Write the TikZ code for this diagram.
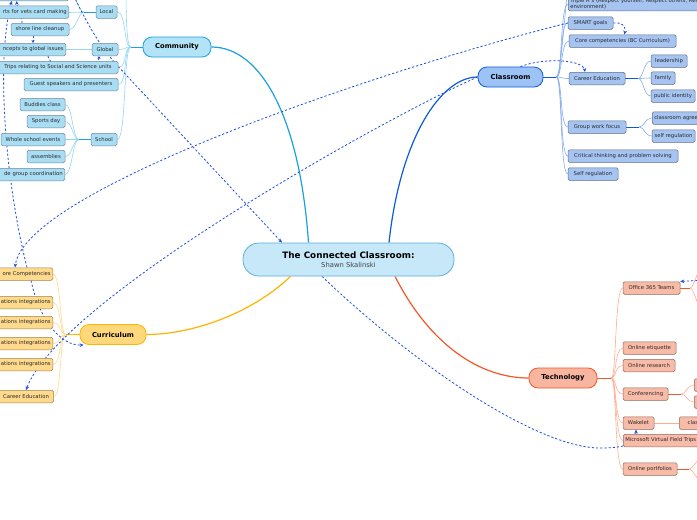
\documentclass[tikz,border=0pt]{standalone}
\usepackage{fontspec}
\setmainfont{DejaVu Sans}
\usetikzlibrary{arrows.meta,backgrounds}
\definecolor{rootfill}{HTML}{C6E8F9}
\definecolor{rootdraw}{HTML}{5FAEDD}
\definecolor{commfill}{HTML}{B3E3F7}
\definecolor{commc}{HTML}{1BA1E2}
\definecolor{commlt}{HTML}{95D6F3}
\definecolor{cchild}{HTML}{A9DDF4}
\definecolor{cchildd}{HTML}{74889A}
\definecolor{classfill}{HTML}{9CC2F6}
\definecolor{classc}{HTML}{0B5CD5}
\definecolor{classlt}{HTML}{86ADEE}
\definecolor{kchild}{HTML}{A6C4F2}
\definecolor{kchildd}{HTML}{5E6E88}
\definecolor{currfill}{HTML}{FFD87C}
\definecolor{currc}{HTML}{FFB400}
\definecolor{currlt}{HTML}{FFDA92}
\definecolor{uchild}{HTML}{FFD98C}
\definecolor{uchildd}{HTML}{9C8650}
\definecolor{techfill}{HTML}{F8B6A1}
\definecolor{techc}{HTML}{F0582A}
\definecolor{techlt}{HTML}{FFAD92}
\definecolor{tchild}{HTML}{F8BBA7}
\definecolor{tchildd}{HTML}{8F6B60}
\definecolor{dblue}{HTML}{1F4FE0}
\definecolor{txt}{HTML}{2A2A2A}
\definecolor{subtxt}{HTML}{444444}
\begin{document}
\begin{tikzpicture}[x=1pt,y=-1pt,
  box/.style={draw, rounded corners=1.5pt, line width=0.5pt, minimum height=12.5pt, inner xsep=2pt, inner ysep=0.5pt, font=\fontsize{5.3}{6.2}\selectfont, text=txt},
  cb/.style={box, fill=cchild, draw=cchildd},
  kb/.style={box, fill=kchild, draw=kchildd},
  ub/.style={box, fill=uchild, draw=uchildd},
  tb/.style={box, fill=tchild, draw=tchildd},
  mainbox/.style={draw, rounded corners=9pt, line width=0.8pt, minimum height=20pt, inner sep=0pt, font=\fontsize{6.8}{8}\selectfont\bfseries, text=black},
  mainline/.style={line width=1.2pt},
  subline/.style={line width=0.6pt},
  stem/.style={line width=1pt},
  dlink/.style={draw=dblue, line width=0.8pt, dash pattern=on 2.2pt off 2pt, -{Stealth[length=4pt,width=3.6pt]}},
  slink/.style={dlink, -{Stealth[length=3pt,width=3pt]}}
]
\path[use as bounding box] (0,0) rectangle (697,520);

% ---------- central ----------
\node[mainbox, fill=rootfill, draw=rootdraw, minimum width=211pt, minimum height=33pt, rounded corners=16pt, align=center] (root) at (348.5,259.5)
 {{\fontsize{8.8}{10}\selectfont The Connected Classroom:}\\[0.5pt]{\fontsize{6.8}{8}\selectfont\mdseries\color{subtxt}Shawn Skalinski}};

% ---------- main topics ----------
\node[mainbox, fill=commfill, draw=commc, minimum width=68pt] (comm) at (177,47) {Community};
\node[mainbox, fill=classfill, draw=classc, minimum width=65pt] (class) at (510.5,77) {Classroom};
\node[mainbox, fill=currfill, draw=currc, minimum width=66pt] (curr) at (113,334.5) {Curriculum};
\node[mainbox, fill=techfill, draw=techc, minimum width=68pt] (tech) at (563,378) {Technology};

% ---------- Community ----------
\node[cb, anchor=south east, minimum width=90pt, minimum height=14pt] (topL) at (69,1) {};
\node[cb, minimum width=21pt] (local) at (106.5,12) {Local};
\node[cb, anchor=east, text width=78pt, align=right] (vets) at (69,12) {rts for vets card making};
\node[cb, minimum width=58pt] (shore) at (40,29.5) {shore line cleanup};
\node[cb, minimum width=26pt] (global) at (105,49.5) {Global};
\node[cb, anchor=east, text width=76pt, align=right] (concepts) at (66,49.5) {ncepts to global issues};
\node[cb, minimum width=120pt] (trips) at (58,67.5) {Trips relating to Social and Science units};
\node[cb, minimum width=94pt] (guest) at (71,84.5) {Guest speakers and presenters};
\node[cb, minimum width=26pt] (school) at (104,139.5) {School};
\node[cb, minimum width=45pt] (buddies) at (42.5,104.5) {Buddies class};
\node[cb, minimum width=38pt] (sports) at (46,121.5) {Sports day};
\node[cb, minimum width=64pt] (whole) at (33,139.5) {Whole school events};
\node[cb, minimum width=38pt] (assemblies) at (46,156.5) {assemblies};
\node[cb, anchor=east, text width=76pt, align=right] (grade) at (65,174.5) {de group coordination};

% ---------- Curriculum ----------
\node[ub, anchor=east, text width=60pt, align=right] (cc) at (53,274) {ore Competencies};
\node[ub, anchor=east, text width=60pt, align=right] (int1) at (53,302.5) {ations integrations};
\node[ub, anchor=east, text width=60pt, align=right] (int2) at (53,322.5) {ations integrations};
\node[ub, anchor=east, text width=60pt, align=right] (int3) at (53,343.5) {ations integrations};
\node[ub, anchor=east, text width=60pt, align=right] (int4) at (53,364.5) {ations integrations};
\node[ub, minimum width=55pt] (ce) at (26,396.5) {Career Education};

% ---------- Classroom ----------
\node[kb, anchor=south west, align=left, inner ysep=1.2pt, text width=150pt] (triple) at (568,11) {Triple R's (Respect yourself, Respect others, Respect\\environment)};
\node[kb, minimum width=45pt] (smart) at (590.5,23) {SMART goals};
\node[kb, minimum width=107pt] (corec) at (622.5,41) {Core competencies (BC Curriculum)};
\node[kb, minimum width=56pt] (career) at (597,78.5) {Career Education};
\node[kb, minimum width=36pt] (leader) at (669,61) {leadership};
\node[kb, minimum width=24pt] (family) at (663,78) {family};
\node[kb, minimum width=44pt] (pubid) at (673,96) {public identity};
\node[kb, minimum width=58pt] (group) at (597,127) {Group work focus};
\node[kb, anchor=west] (agree) at (652,118) {classroom agreements};
\node[kb, minimum width=43pt] (selfreg2) at (673.5,136) {self regulation};
\node[kb, minimum width=110pt] (critical) at (623,156) {Critical thinking and problem solving};
\node[kb, minimum width=50pt] (selfreg) at (593,174) {Self regulation};

% ---------- Technology ----------
\node[tb, minimum width=57pt] (teams) at (651.5,288) {Office 365 Teams};
\node[tb, minimum width=53pt] (etiq) at (649.5,348) {Online etiquette};
\node[tb, minimum width=52pt] (research) at (649,365.5) {Online research};
\node[tb, minimum width=45pt] (confer) at (645.5,394) {Conferencing};
\node[tb, anchor=west, minimum width=20pt] (conf1) at (694,385) {};
\node[tb, anchor=west, minimum width=20pt] (conf2) at (694,402) {};
\node[tb, minimum width=31pt] (wakelet) at (638.5,423) {Wakelet};
\node[tb, anchor=west, minimum width=30pt] (classbox) at (679,423) {class};
\node[tb, anchor=west] (msvft) at (623,440.5) {Microsoft Virtual Field Trips};
\node[tb, minimum width=54pt] (portfolio) at (650,469) {Online portfolios};

% free ends off the page
\coordinate (cup) at (126,-20);
\coordinate (kup) at (570,-25);
\coordinate (tmu) at (706,262);
\coordinate (tmd) at (706,315);
\coordinate (pfu) at (706,455);
\coordinate (pfd) at (706,485);
\coordinate (d1s) at (72,-8);
\coordinate (d10s) at (706,280);

\begin{scope}[on background layer]
\fill[white] (0,0) rectangle (697,520);
% main connectors
\draw[mainline, commc] ([xshift=-40pt]root.north) .. controls (300,120) and (262,47) .. (comm.east);
\draw[mainline, classc] ([xshift=40.5pt]root.north) .. controls (400,140) and (440,77) .. (class.west);
\draw[mainline, currc] ([xshift=-58pt]root.south) .. controls (250,315) and (190,334.5) .. (curr.east);
\draw[mainline, techc] ([xshift=46.5pt]root.south) .. controls (430,345) and (480,378) .. (tech.west);

% Community fans
\draw[stem, commc] (comm.west) -- ++(-12,0) coordinate (cf);
\foreach \c in {local,global,trips,guest,school}
  \draw[subline, commlt] (cf) .. controls +(-7,0) and +(9,0) .. (\c.east);
\draw[subline, commlt] (cf) .. controls +(-5,0) and +(0,14) .. (cup);
\draw[stem, commc] (local.west) -- ++(-12,0) coordinate (lf);
\foreach \c in {vets,shore,topL}
  \draw[subline, commlt] (lf) .. controls +(-5,0) and +(7,0) .. (\c.east);
\draw[subline, commlt] (global.west) -- (concepts.east);
\draw[stem, commc] (school.west) -- ++(-12,0) coordinate (sf);
\foreach \c in {buddies,sports,whole,assemblies,grade}
  \draw[subline, commlt] (sf) .. controls +(-6,0) and +(7,0) .. (\c.east);

% Curriculum fan
\draw[stem, currc] (curr.west) -- ++(-14,0) coordinate (uf);
\foreach \c in {cc,int1,int2,int3,int4,ce}
  \draw[subline, currlt] (uf) .. controls +(-6,0) and +(8,0) .. (\c.east);

% Classroom fans
\draw[stem, classc] (class.east) -- ++(13,0) coordinate (kf);
\foreach \c in {triple,smart,corec,career,group,critical,selfreg}
  \draw[subline, classlt] (kf) .. controls +(6,0) and +(-8,0) .. (\c.west);
\draw[subline, classlt] (kf) .. controls +(5,0) and +(-4,14) .. (kup);
\draw[stem, classc] (career.east) -- ++(13,0) coordinate (cef);
\foreach \c in {leader,family,pubid}
  \draw[subline, classlt] (cef) .. controls +(5,0) and +(-7,0) .. (\c.west);
\draw[stem, classc] (group.east) -- ++(13,0) coordinate (gf);
\foreach \c in {agree,selfreg2}
  \draw[subline, classlt] (gf) .. controls +(5,0) and +(-7,0) .. (\c.west);

% Technology fans
\draw[stem, techc] (tech.east) -- ++(14,0) coordinate (tf);
\foreach \c in {teams,etiq,research,confer,wakelet,msvft,portfolio}
  \draw[subline, techlt] (tf) .. controls +(5,0) and +(-8,0) .. (\c.west);
\draw[stem, techc] (teams.east) -- ++(10,0) coordinate (tmf);
\foreach \c in {tmu,tmd}
  \draw[subline, techlt] (tmf) .. controls +(4,0) and +(-7,0) .. (\c);
\draw[stem, techc] (confer.east) -- ++(13,0) coordinate (cof);
\foreach \c in {conf1,conf2}
  \draw[subline, techlt] (cof) .. controls +(5,0) and +(-7,0) .. (\c.west);
\draw[subline, techlt, line width=1pt] (wakelet.east) -- (classbox.west);
\draw[stem, techc] (portfolio.east) -- ++(12,0) coordinate (pf);
\foreach \c in {pfu,pfd}
  \draw[subline, techlt] (pf) .. controls +(4,0) and +(-7,0) .. (\c);

% dashed relationship links
\draw[dlink] (d1s) .. controls (86,22) and (100,46) .. (115,63) -- ([xshift=-66.5pt]root.north);
\draw[dlink] ([xshift=-18pt]shore.north) .. controls (22,12) and (17,10) .. ([xshift=-7pt]topL.south);
\draw[dlink] ([xshift=-26pt]cc.north east) .. controls (5,180) and (-4,60) .. ([xshift=-12pt]topL.south);
\draw[dlink] (smart.west) .. controls (380,70) and (25,190) .. ([xshift=-38pt]cc.north east);
\draw[dlink] ([xshift=-22pt]cc.south east) .. controls (40,322) and (62,346) .. ([xshift=4pt]curr.south west);
\draw[dlink] (class.west) .. controls (380,120) and (60,300) .. (ce.north);
\draw[dlink] ([xshift=10pt]class.north) .. controls (545,57) and (583,60) .. ([xshift=-12pt]career.north);
\draw[dlink] (smart.east) .. controls (622,22) and (626,26) .. ([xshift=2pt]corec.north);
\draw[dlink] ([xshift=-26.5pt]root.south) .. controls (420,370) and (540,448) .. (600,448) .. controls (630,448) and (636,442) .. ([xshift=-2.5pt]wakelet.south);
\draw[dlink] (d10s) -- (teams.north east);
\draw[slink] ([xshift=-18pt]concepts.south east) .. controls (50,72) and (99,74) .. ([xshift=-6pt]global.south);
\draw[slink] ([xshift=-7pt]shore.south) -- ([xshift=-33pt]concepts.north east);
\end{scope}
\end{tikzpicture}
\end{document}
